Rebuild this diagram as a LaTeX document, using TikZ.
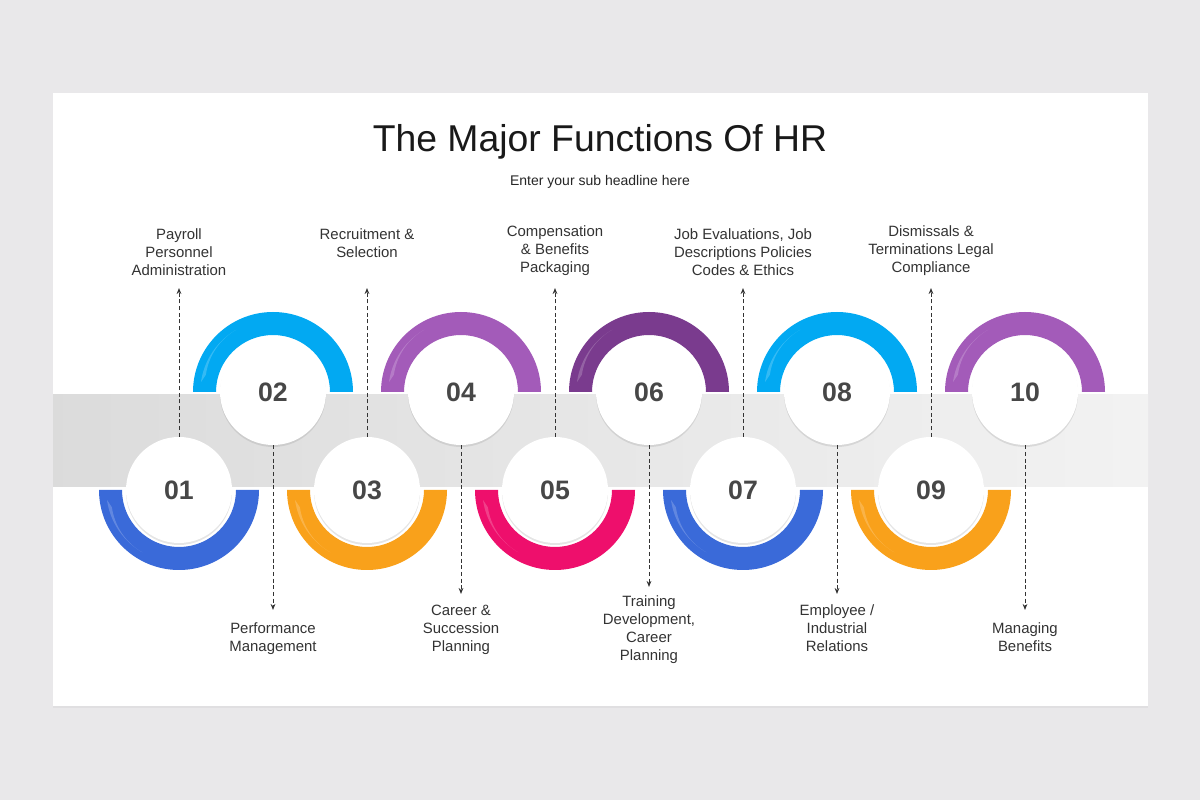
\documentclass[tikz,border=0pt]{standalone}
\usepackage{fontspec}
\setmainfont{Liberation Sans}
\usetikzlibrary{shadows,arrows.meta}
\definecolor{bg}{HTML}{E9E8EA}
\definecolor{cblue}{HTML}{3A6AD9}
\definecolor{ccyan}{HTML}{02A9F2}
\definecolor{corange}{HTML}{F9A11B}
\definecolor{cpurple}{HTML}{A35BB9}
\definecolor{cpink}{HTML}{EE0F6C}
\definecolor{cdpurple}{HTML}{7A3B8E}
\definecolor{txt}{HTML}{333333}
\tikzset{
  num/.style={circle,fill=white,minimum size=79.5pt,inner sep=0,font=\fontsize{20}{24}\selectfont\bfseries,text=txt!90,drop shadow={opacity=0.2,shadow xshift=0pt,shadow yshift=-1.5pt}},
  lab/.style={align=center,font=\fontsize{11.2}{13.5}\selectfont,text=txt},
  arr/.style={densely dashed,draw=txt,line width=0.7pt,-{Stealth[length=4.5pt,width=3.5pt]}}
}
\newcommand{\oddring}[2]{%
  \fill[#2] (#1+80,310) arc[start angle=0,end angle=-180,radius=80] -- (#1-57,310) arc[start angle=180,end angle=360,radius=57] -- cycle;
  \fill[white,opacity=0.2] (#1-72,300) arc[start angle=188,end angle=240,radius=72] -- ++(0,0) arc[start angle=240,end angle=188,radius=62] -- cycle;}
\newcommand{\evenring}[2]{%
  \fill[#2] (#1+80,408) arc[start angle=0,end angle=180,radius=80] -- (#1-57,408) arc[start angle=180,end angle=0,radius=57] -- cycle;
  \fill[white,opacity=0.2] (#1-72,418) arc[start angle=172,end angle=120,radius=72] -- ++(0,0) arc[start angle=120,end angle=172,radius=62] -- cycle;}
\begin{document}
\begin{tikzpicture}[x=0.75pt,y=0.75pt]
\useasboundingbox (0,0) rectangle (1200,800);
\fill[bg] (0,0) rectangle (1200,800);
\fill[white,drop shadow={opacity=0.08,shadow xshift=0pt,shadow yshift=-1.5pt}] (53,94) rectangle (1148,707);
\shade[left color=black!14,right color=black!5] (53,313) rectangle (1148,405);
\node[font=\fontsize{28}{32}\selectfont,text=black!90] (title) at (600,658) {The Major Functions Of HR};
\node[font=\fontsize{10.5}{12}\selectfont,text=black!85] (sub) at (600,618) {Enter your sub headline here};
\oddring{179}{cblue}\evenring{273}{ccyan}\oddring{367}{corange}\evenring{461}{cpurple}
\oddring{555}{cpink}\evenring{649}{cdpurple}\oddring{743}{cblue}\evenring{837}{ccyan}
\oddring{931}{corange}\evenring{1025}{cpurple}
\foreach \i/\x in {1/179,3/367,5/555,7/743,9/931}{\node[num] (c\i) at (\x,310) {0\i};}
\foreach \i/\x in {2/273,4/461,6/649,8/837}{\node[num] (c\i) at (\x,408) {0\i};}
\node[num] (c10) at (1025,408) {10};
\node[lab,anchor=south] (l1) at (179,520) {Payroll\\Personnel\\Administration};
\node[lab,anchor=south] (l3) at (367,538) {Recruitment \&\\Selection};
\node[lab,anchor=south] (l5) at (555,520) {Compensation\\\& Benefits\\Packaging};
\node[lab,anchor=south] (l7) at (743,520) {Job Evaluations, Job\\Descriptions Policies\\Codes \& Ethics};
\node[lab,anchor=south] (l9) at (931,520) {Dismissals \&\\Terminations Legal\\Compliance};
\node[lab,anchor=north] (l2) at (273,182) {Performance\\Management};
\node[lab,anchor=north] (l4) at (461,200) {Career \&\\Succession\\Planning};
\node[lab,anchor=north] (l6) at (649,209) {Training\\Development,\\Career\\Planning};
\node[lab,anchor=north] (l8) at (837,200) {Employee /\\Industrial\\Relations};
\node[lab,anchor=north] (l10) at (1025,182) {Managing\\Benefits};
\foreach \i in {1,3,5,7,9}{\draw[arr] (c\i.north) -- (c\i.north |- 0,512);}
\draw[arr] (c2.south) -- (273,190);
\draw[arr] (c4.south) -- (461,206);
\draw[arr] (c6.south) -- (649,213);
\draw[arr] (c8.south) -- (837,206);
\draw[arr] (c10.south) -- (1025,190);
\end{tikzpicture}
\end{document}
